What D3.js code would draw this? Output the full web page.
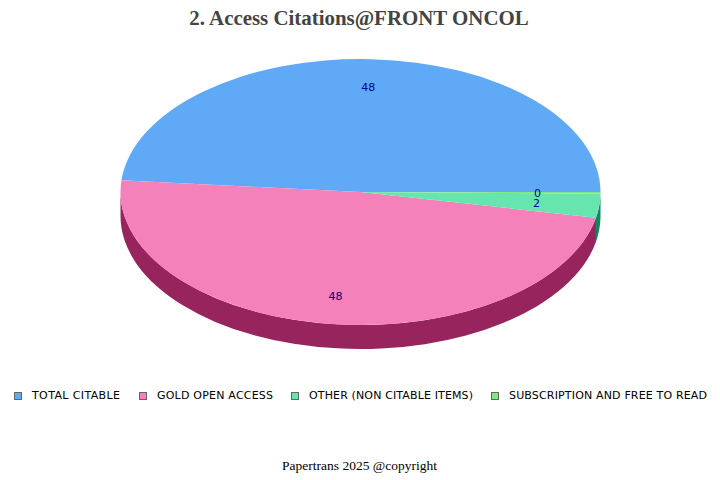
<!DOCTYPE html>
<html>
<head>
<meta charset="utf-8">
<script src="https://cdn.jsdelivr.net/npm/d3@7"></script>
<style>
  html, body { margin: 0; padding: 0; background: #fff; }
  svg { display: block; }
</style>
</head>
<body>
<svg id="chart" width="720" height="480"></svg>
<script>
// Data
const categories = ['TOTAL CITABLE', 'GOLD OPEN ACCESS', 'OTHER (NON CITABLE ITEMS)', 'SUBSCRIPTION AND FREE TO READ'];
const values = [48.6, 48.3, 2.9, 0.2];
const sliceColors = ['#60A9F6', '#F481BA', '#66E6AE', '#80E880'];
const sideColors = ['#1F5FA5', '#98245E', '#0C8A5A', '#2E9A2E'];
const titleText = '2. Access Citations@FRONT ONCOL';
const footerText = 'Papertrans 2025 @copyright';

const svg = d3.select('#chart');

const cx = 360.5, cy = 192;
const rx = 240, ry = 133, depth = 24;
const labelRx = 177, labelRy = 105;

const legendSwatchX = [14, 139, 291, 491];
const legendTextWidth = [88, 116, 164, 198];

// Slices run counter-clockwise from 3 o'clock
const pie = d3.pie().sort(null).startAngle(Math.PI / 2).endAngle(Math.PI / 2 - 2 * Math.PI);
const arcs = pie(values);
const arc = d3.arc().innerRadius(0).outerRadius(rx);

svg.append('text')
  .attr('x', 359).attr('y', 25)
  .attr('text-anchor', 'middle')
  .style('font-family', '"Liberation Serif", serif')
  .style('font-weight', 'bold')
  .style('font-size', '20.9px')
  .style('fill', '#444444')
  .text(titleText);

// Rim: only the part of each slice on the front half of the ellipse is visible
function sidePath(d) {
  const a0 = ((d.endAngle - Math.PI / 2) % (2 * Math.PI) + 2 * Math.PI) % (2 * Math.PI);
  const a1 = a0 + (d.startAngle - d.endAngle);
  const from = Math.max(a0, 0), to = Math.min(a1, Math.PI);
  if (to <= from) return null;
  const x = t => rx * Math.cos(t), y = t => ry * Math.sin(t);
  return `M${x(from)},${y(from)}` +
    `A${rx},${ry} 0 0 1 ${x(to)},${y(to)}` +
    `L${x(to)},${y(to) + depth}` +
    `A${rx},${ry} 0 0 0 ${x(from)},${y(from) + depth}Z`;
}

const g = svg.append('g').attr('transform', `translate(${cx},${cy})`);

g.selectAll('.side')
  .data(arcs.filter(d => sidePath(d)))
  .join('path')
  .attr('class', 'side')
  .attr('d', sidePath)
  .attr('fill', d => sideColors[d.index]);

g.append('g')
  .attr('transform', `scale(1,${ry / rx})`)
  .selectAll('.slice')
  .data(arcs)
  .join('path')
  .attr('class', 'slice')
  .attr('d', arc)
  .attr('fill', d => sliceColors[d.index]);

g.selectAll('.value')
  .data(arcs)
  .join('text')
  .attr('class', 'value')
  .attr('x', d => labelRx * Math.cos((d.startAngle + d.endAngle) / 2 - Math.PI / 2))
  .attr('y', d => labelRy * Math.sin((d.startAngle + d.endAngle) / 2 - Math.PI / 2))
  .attr('dy', '0.35em')
  .attr('text-anchor', 'middle')
  .style('font-family', '"DejaVu Sans", sans-serif')
  .style('font-size', '11px')
  .style('fill', '#000090')
  .text(d => Math.floor(d.value));

const legend = svg.append('g');
categories.forEach((name, i) => {
  legend.append('rect')
    .attr('x', legendSwatchX[i] + 0.5).attr('y', 392.5)
    .attr('width', 7).attr('height', 7)
    .attr('fill', sliceColors[i])
    .attr('stroke', '#666666');
  legend.append('text')
    .attr('x', legendSwatchX[i] + 18).attr('y', 399)
    .attr('textLength', legendTextWidth[i])
    .attr('lengthAdjust', 'spacing')
    .style('font-family', '"DejaVu Sans", sans-serif')
    .style('font-size', '11px')
    .style('fill', '#000000')
    .text(name);
});

svg.append('text')
  .attr('x', 359.5).attr('y', 470)
  .attr('text-anchor', 'middle')
  .style('font-family', '"Liberation Serif", serif')
  .style('font-size', '13.5px')
  .style('fill', '#000000')
  .text(footerText);
</script>
</body>
</html>
